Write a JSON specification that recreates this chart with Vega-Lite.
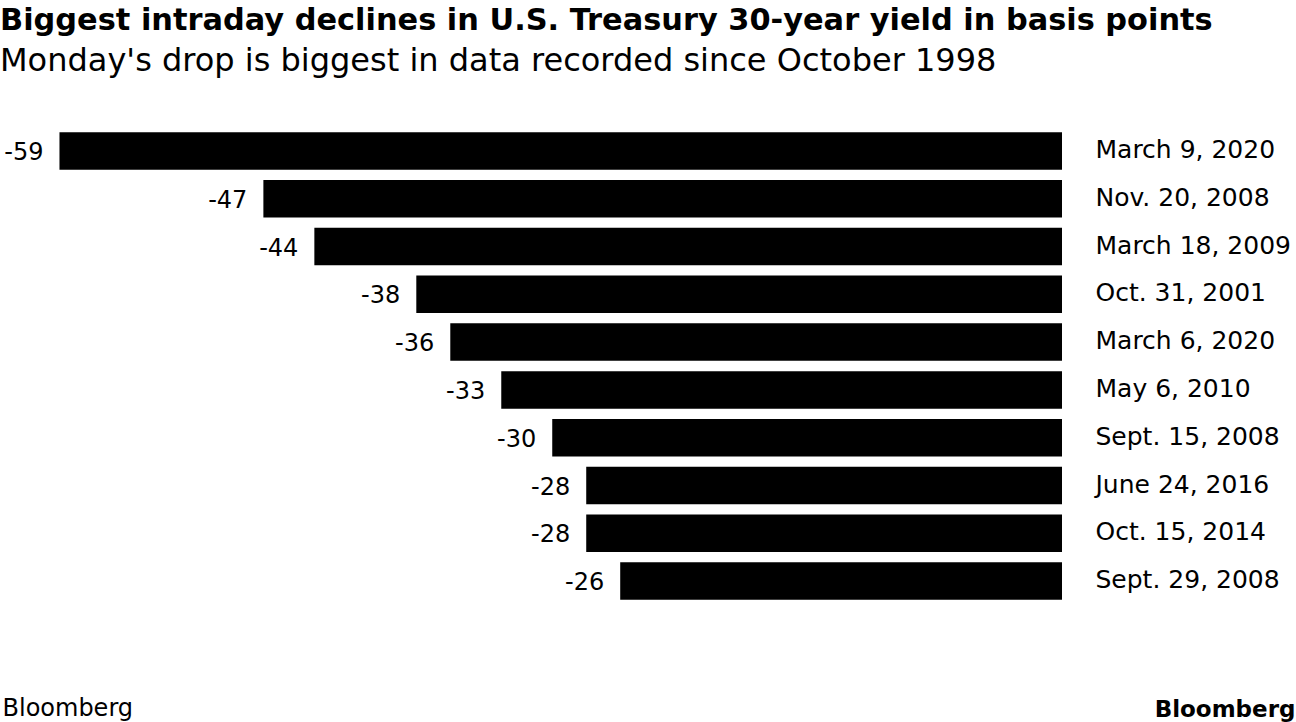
{
  "$schema": "https://vega.github.io/schema/vega-lite/v6.json",
  "autosize": "none",
  "width": 1062,
  "height": 478,
  "padding": {"top": 127, "left": 0, "right": 234, "bottom": 117},
  "background": "white",
  "config": {
    "view": {"stroke": null},
    "font": "DejaVu Sans",
    "text": {"font": "DejaVu Sans"},
    "axis": {"labelFont": "DejaVu Sans", "titleFont": "DejaVu Sans"},
    "title": {"font": "DejaVu Sans", "subtitleFont": "DejaVu Sans"}
  },
  "title": {
    "text": "Biggest intraday declines in U.S. Treasury 30-year yield in basis points",
    "subtitle": "Monday's drop is biggest in data recorded since October 1998",
    "anchor": "start",
    "frame": "group",
    "fontSize": 30.4,
    "fontWeight": "bold",
    "color": "#000000",
    "subtitleFontSize": 32,
    "subtitleColor": "#000000",
    "subtitlePadding": 10,
    "offset": 50
  },
  "data": {
    "values": [
      {"date": "March 9, 2020", "change": -59},
      {"date": "Nov. 20, 2008", "change": -47},
      {"date": "March 18, 2009", "change": -44},
      {"date": "Oct. 31, 2001", "change": -38},
      {"date": "March 6, 2020", "change": -36},
      {"date": "May 6, 2010", "change": -33},
      {"date": "Sept. 15, 2008", "change": -30},
      {"date": "June 24, 2016", "change": -28},
      {"date": "Oct. 15, 2014", "change": -28},
      {"date": "Sept. 29, 2008", "change": -26}
    ]
  },
  "encoding": {
    "y": {
      "field": "date",
      "type": "nominal",
      "sort": null,
      "scale": {"paddingInner": 0.215, "paddingOuter": 0.1075},
      "axis": {
        "orient": "right",
        "domain": false,
        "ticks": false,
        "tickSize": 0,
        "labelPadding": 33,
        "labelFontSize": 25,
        "labelLimit": 400,
        "labelColor": "#000000",
        "labelAlign": "left",
        "labelBaseline": "alphabetic",
        "labelOffset": 7,
        "title": "Bloomberg",
        "titleAngle": 0,
        "titleFontSize": 23,
        "titleFontWeight": "bold",
        "titleColor": "#000000",
        "titleAlign": "right",
        "titleBaseline": "alphabetic",
        "titleX": 233,
        "titleY": 589
      }
    },
    "x": {
      "field": "change",
      "type": "quantitative",
      "scale": {"domain": [-62.5, 0], "nice": false, "zero": false},
      "axis": {
        "orient": "bottom",
        "domain": false,
        "ticks": false,
        "labels": false,
        "grid": false,
        "title": "Bloomberg",
        "titleFontSize": 24,
        "titleFontWeight": "normal",
        "titleColor": "#000000",
        "titleAnchor": "start",
        "titleAlign": "left",
        "titleBaseline": "alphabetic",
        "titleX": 2,
        "titleY": 110
      }
    }
  },
  "layer": [
    {
      "mark": {"type": "bar", "color": "#000000"},
      "encoding": {
        "x": {"field": "change", "type": "quantitative"},
        "x2": {"datum": 0}
      }
    },
    {
      "mark": {"type": "text", "align": "right", "baseline": "alphabetic", "dx": -16, "dy": 9, "fontSize": 24, "color": "#000000"},
      "encoding": {
        "text": {"field": "change", "type": "nominal"}
      }
    }
  ]
}
